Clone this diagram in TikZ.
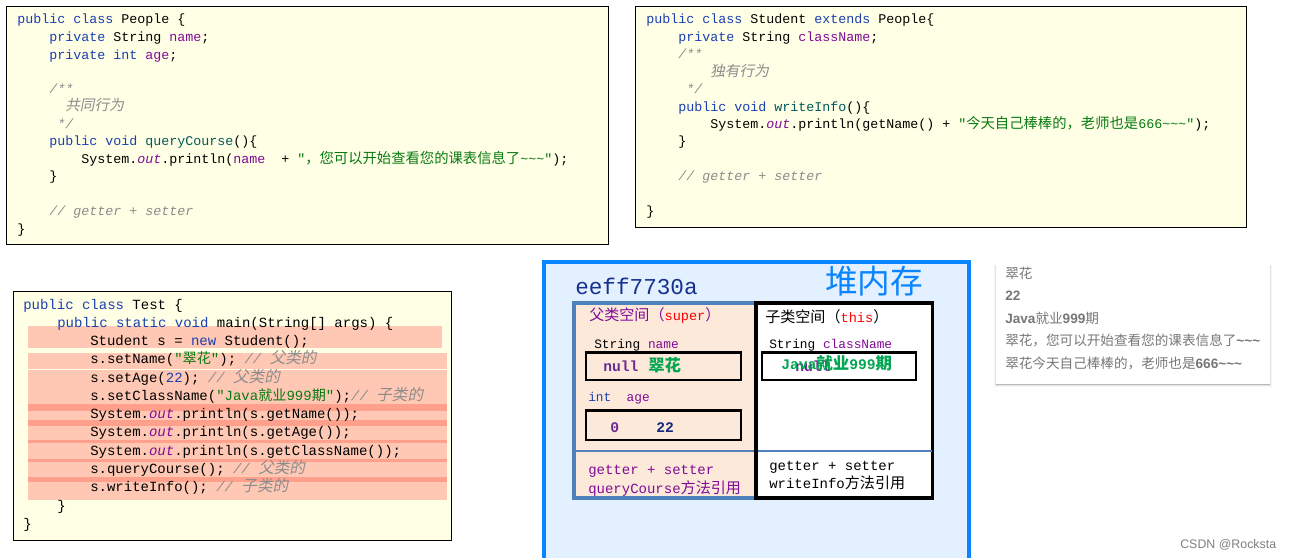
\documentclass[tikz,border=0pt]{standalone}
\usepackage{fontspec}
\setmainfont{Liberation Sans}
\setmonofont{Liberation Mono}
\newfontfamily\cjk{Noto Sans CJK SC}
\newfontfamily\cjki[FakeSlant=0.2]{Noto Sans CJK SC}
\definecolor{kwc}{HTML}{1A3FB0}
\definecolor{fldc}{HTML}{800A96}
\definecolor{comc}{HTML}{8C8C8C}
\definecolor{strc}{HTML}{087A10}
\definecolor{paper}{HTML}{FFFFE6}
\definecolor{pinkc}{HTML}{FFC8B4}
\definecolor{pinkd}{HTML}{FFA08C}
\definecolor{heapbg}{HTML}{E3F0FF}
\definecolor{heapc}{HTML}{0A84FF}
\definecolor{steel}{HTML}{4F81BD}
\definecolor{peach}{HTML}{FDE9DA}
\definecolor{vgreen}{HTML}{00A650}
\definecolor{vpurple}{HTML}{6A2C91}
\definecolor{cardc}{HTML}{777777}
\def\zhsize{11}
\def\zhisize{11}
\newcommand\zh[1]{{\cjk\fontsize{\zhsize}{12}\selectfont #1}}
\newcommand\zhi[1]{{\cjki\fontsize{\zhisize}{12}\selectfont #1}}
\newcommand\ckw[1]{\textcolor{kwc}{#1}}
\newcommand\cfld[1]{\textcolor{fldc}{#1}}
\newcommand\ccom[1]{\textcolor{comc}{\itshape #1}}
\newcommand\ccz[1]{\textcolor{comc}{\zhi{#1}}}
\newcommand\cstr[1]{\textcolor{strc}{#1}}
\newcommand\cstz[1]{\textcolor{strc}{\zh{#1}}}
\newcommand\cout{\textcolor{fldc}{\itshape out}}
\newcommand\tld{\textasciitilde}
\tikzset{
  codeA/.style={anchor=base west,inner sep=0pt,yshift=0.75pt,font=\fontsize{10}{12}\selectfont\ttfamily\def\zhsize{10.75}},
  codeB/.style={anchor=base west,inner sep=0pt,yshift=0.75pt,font=\fontsize{10.5}{12}\selectfont\ttfamily\def\zhsize{10.6}\def\zhisize{11.7}},
  memh/.style={anchor=base west,inner sep=0pt,font=\fontsize{10.2}{12}\selectfont\ttfamily\def\zhsize{11.3}},
  memo/.style={anchor=base west,inner sep=0pt,font=\fontsize{9.6}{12}\selectfont\ttfamily},
  memv/.style={anchor=base west,inner sep=0pt,font=\fontsize{11}{12}\selectfont\ttfamily\bfseries\def\zhsize{12.3}},
  memm/.style={anchor=base west,inner sep=0pt,font=\fontsize{10.5}{12}\selectfont\ttfamily\def\zhsize{11.3}},
  cardt/.style={anchor=base west,inner sep=0pt,text=cardc,font=\fontsize{10.2}{12}\selectfont\def\zhsize{10.2}},
  codebox/.style={draw=black,line width=0.75pt,fill=paper},
  fieldbox/.style={draw=black,line width=1.6pt},
}
\begin{document}
\begin{tikzpicture}[x=0.75pt,y=-0.75pt]
\useasboundingbox (0,0) rectangle (1289,558);
\fill[white] (0,0) rectangle (1289,558);
% People
\draw[codebox] (6.5,6.5) rectangle (608.5,244.5);
\node[codeA] (p1) at (17,24) {\ckw{public class} People \{};
\node[codeA] (p2) at (49,42) {\ckw{private} String \cfld{name};};
\node[codeA] (p3) at (49,60) {\ckw{private int} \cfld{age};};
\node[codeA] (p4) at (49,94) {\ccom{/**}};
\node[codeA] (p5) at (65,111) {\ccz{共同行为}};
\node[codeA] (p6) at (57,129) {\ccom{*/}};
\node[codeA] (p7) at (49,146) {\ckw{public void} \textcolor{teal!70!black}{queryCourse}()\{};
\node[codeA] (p8) at (81,164) {System.\cout.println(\cfld{name}\ \ + \cstr{"}\cstz{，您可以开始查看您的课表信息了}\cstr{\tld\tld\tld"});};
\node[codeA] (p9) at (49,181) {\}};
\node[codeA] (p10) at (49,216) {\ccom{// getter + setter}};
\node[codeA] (p11) at (17,234) {\}};
% Student
\draw[codebox] (635.5,6.5) rectangle (1246.5,227.5);
\node[codeA] (s1) at (646,24) {\ckw{public class} Student \ckw{extends} People\{};
\node[codeA] (s2) at (678,42) {\ckw{private} String \cfld{className};};
\node[codeA] (s3) at (678,59) {\ccom{/**}};
\node[codeA] (s4) at (710,77) {\ccz{独有行为}};
\node[codeA] (s5) at (686,94) {\ccom{*/}};
\node[codeA] (s6) at (678,112) {\ckw{public void} \textcolor{teal!70!black}{writeInfo}()\{};
\node[codeA] (s7) at (710,129) {System.\cout.println(getName() + \cstr{"}\cstz{今天自己棒棒的，老师也是}\cstr{666\tld\tld\tld"});};
\node[codeA] (s8) at (678,146) {\}};
\node[codeA] (s9) at (678,181) {\ccom{// getter + setter}};
\node[codeA] (s10) at (646,216) {\}};
% Test
\draw[codebox] (13.5,291.5) rectangle (451.5,540.5);
\fill[pinkc] (28,326) rectangle (442,348);
\fill[pinkc] (28,353) rectangle (447,369);
\fill[pinkc] (28,370) rectangle (447,500);
\fill[pinkd] (28,404) rectangle (447,411);
\fill[pinkd] (28,420) rectangle (447,426);
\fill[pinkd] (28,440) rectangle (447,443);
\fill[pinkd] (28,459) rectangle (447,462);
\fill[pinkd] (28,477) rectangle (447,482);
\node[codeB] (t1) at (23,310) {\ckw{public class} Test \{};
\node[codeB] (t2) at (57,328) {\ckw{public static void} main(String[] args) \{};
\node[codeB] (t3) at (90,346) {Student s = \ckw{new} Student();};
\node[codeB] (t4) at (90,364) {s.setName(\cstr{"}\cstz{翠花}\cstr{"}); \ccom{//} \ccz{父类的}};
\node[codeB] (t5) at (90,383) {s.setAge(\ckw{22}); \ccom{//} \ccz{父类的}};
\node[codeB] (t6) at (90,401) {s.setClassName(\cstr{"Java}\cstz{就业}\cstr{999}\cstz{期}\cstr{"});\ccom{//} \ccz{子类的}};
\node[codeB] (t7) at (90,419) {System.\cout.println(s.getName());};
\node[codeB] (t8) at (90,437) {System.\cout.println(s.getAge());};
\node[codeB] (t9) at (90,456) {System.\cout.println(s.getClassName());};
\node[codeB] (t10) at (90,474) {s.queryCourse(); \ccom{//} \ccz{父类的}};
\node[codeB] (t11) at (90,492) {s.writeInfo(); \ccom{//} \ccz{子类的}};
\node[codeB] (t12) at (57,511) {\}};
\node[codeB] (t13) at (23,529) {\}};
% Heap
\fill[heapbg] (542,261) rectangle (970,558);
\draw[heapc,line width=3pt] (543.5,558) -- (543.5,262) -- (969,262) -- (969,558);
\node[anchor=base west,inner sep=0pt,text=heapc,font=\cjk\fontsize{24.5}{28}\selectfont] (heap) at (825,293) {堆内存};
\node[anchor=base west,inner sep=0pt,text=kwc!80!black,font=\fontsize{17}{20}\selectfont\ttfamily] (addr) at (575,294) {eeff7730a};
% panels
\draw[fill=peach,draw=steel,line width=2.5pt] (574,303) rectangle (756,498);
\draw[fill=white,draw=black,line width=2.4pt] (756,303) rectangle (932.5,498);
\draw[steel,line width=1.5pt] (574,451) -- (756,451);
\draw[steel,line width=1.5pt] (756,451) -- (932,451);
\draw[black,line width=2.4pt] (756,303) -- (756,498);
\draw[fieldbox] (586,352.5) rectangle (741,380);
\draw[fieldbox] (586,410.5) rectangle (741,440);
\draw[fieldbox] (762,352.5) rectangle (916,380);
\node[memh,text=fldc] (ls) at (589,320) {\zh{父类空间（}\textcolor{red}{super}\zh{）}};
\node[memh] (rs) at (765,322) {\zh{子类空间（}\textcolor{red}{this}\zh{）}};
\node[memo] (fn) at (594,348) {String \cfld{name}};
\node[memo] (fc) at (769,348) {String \cfld{className}};
\node[memv,text=vpurple] (vn) at (603,371) {null};
\node[memv,text=vgreen] (vh) at (648,371) {\zh{\bfseries 翠花}};
\node[memv,text=vpurple] (vc0) at (795,371) {null};
\node[memv,text=vgreen] (vc) at (781,369) {Java\zh{\bfseries 就业}999\zh{\bfseries 期}};
\node[memo] (fa) at (588,401) {\ckw{int}\ \ \cfld{age}};
\node[memv,text=vpurple] (v0) at (610,432) {0};
\node[memv,text=kwc!70!black] (v22) at (656,432) {22};
\node[memm,text=fldc] (lg) at (588,474) {getter + setter};
\node[memm,text=fldc] (lq) at (588,493) {queryCourse\zh{方法引用}};
\node[memm] (rg) at (769,470) {getter + setter};
\node[memm] (rw) at (769,488) {writeInfo\zh{方法引用}};
% card
\fill[black!4] (994,265) rectangle (1272,387);
\fill[black!10] (995,265) rectangle (1271,386);
\fill[black!28] (996,266) rectangle (1270,385);
\fill[white] (996,265) rectangle (1270,384);
\node[cardt] (c1) at (1005,278) {\zh{翠花}};
\node[cardt] (c2) at (1005,300) {\bfseries 22};
\node[cardt] (c3) at (1005,323) {\bfseries Java\zh{\mdseries 就业}999\zh{\mdseries 期}};
\node[cardt] (c4) at (1005,345) {\zh{翠花，您可以开始查看您的课表信息了}\bfseries\tld\tld\tld};
\node[cardt] (c5) at (1005,368) {\zh{翠花今天自己棒棒的，老师也是}\bfseries 666\tld\tld\tld};
\node[anchor=base west,inner sep=0pt,text=black!50,font=\fontsize{9.3}{12}\selectfont] (wm) at (1180,548) {CSDN @Rocksta};
\end{tikzpicture}
\end{document}
